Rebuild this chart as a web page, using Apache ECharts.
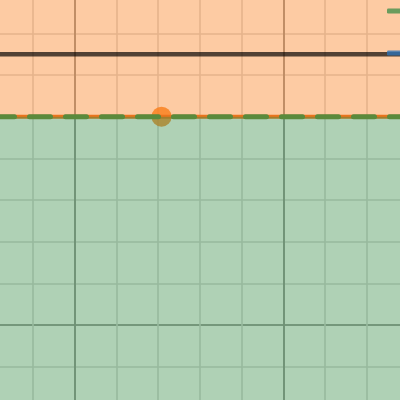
<!DOCTYPE html>
<html>
<head>
<meta charset="utf-8">
<script src="https://cdn.jsdelivr.net/npm/echarts@6/dist/echarts.min.js"></script>
<style>html,body{margin:0;padding:0;background:#fff;}#c{width:400px;height:400px;}</style>
</head>
<body>
<div id="c"></div>
<script>
// data
var lineX = [-2, 8];            // x extent of horizontal lines
var boundaryY = [5, 5];         // boundary y = 5
var blackY = [6.5, 6.5];        // horizontal line y = 6.5
var pointXY = [2.08, 5];        // highlighted point
var legendNames = ['y < 5', 'y = 6.5'];

function pairs(xs, ys) { return xs.map(function (x, i) { return [x, ys[i]]; }); }

var ux = 41.75, uy = 41.67, x0 = 74.7, y0 = 325;
function gridFor(xmin, xmax, ymin, ymax) {
  var left = x0 + xmin * ux, width = (xmax - xmin) * ux;
  var top = y0 - ymax * uy, height = (ymax - ymin) * uy;
  return { left: left, top: top, width: width, height: height, containLabel: false, outerBoundsMode: 'none', show: false };
}
function axisBase(min, max, interval, color, gridIndex) {
  return {
    type: 'value', min: min, max: max, interval: interval, gridIndex: gridIndex,
    axisLine: { show: false }, axisTick: { show: false }, axisLabel: { show: false },
    splitLine: { show: true, showMinLine: true, showMaxLine: true, lineStyle: { color: color, width: 1.6 } }
  };
}

var chart = echarts.init(document.getElementById('c'), null, { renderer: 'canvas' });
chart.setOption({
  animation: false,
  backgroundColor: '#ffffff',
  grid: [gridFor(-2, 8, -2, 8), gridFor(-5, 10, -5, 10)],
  xAxis: [axisBase(-2, 8, 1, '#d8d8d8', 0), axisBase(-5, 10, 5, '#888888', 1)],
  yAxis: [axisBase(-2, 8, 1, '#d8d8d8', 0), axisBase(-5, 10, 5, '#888888', 1)],
  legend: {
    orient: 'vertical', left: 387, top: 4, padding: 0, z: 20,
    itemWidth: 25, itemHeight: 5, itemGap: 28, selectedMode: false,
    textStyle: { fontSize: 12, lineHeight: 14, color: '#333', fontFamily: 'Roboto' },
    data: [
      { name: legendNames[0], icon: 'roundRect', itemStyle: { color: 'rgba(56,140,70,0.75)' } },
      { name: legendNames[1], icon: 'roundRect', itemStyle: { color: 'rgba(45,112,179,0.8)' } }
    ]
  },
  series: [
    {
      name: 'point', type: 'scatter', xAxisIndex: 0, yAxisIndex: 0, z: 1,
      symbol: 'circle', symbolSize: 20, itemStyle: { color: '#fa7e19' },
      data: [pointXY], silent: true
    },
    {
      name: 'y > 5', type: 'line', xAxisIndex: 0, yAxisIndex: 0, z: 2,
      data: pairs(lineX, boundaryY), showSymbol: false, symbol: 'none',
      lineStyle: { color: '#ea741c', width: 4 },
      areaStyle: { color: '#fa7e19', opacity: 0.4, origin: 'end' }
    },
    {
      name: legendNames[0], type: 'line', xAxisIndex: 0, yAxisIndex: 0, z: 3,
      data: pairs(lineX, boundaryY), showSymbol: false, symbol: 'none',
      lineStyle: { color: '#5a8a3c', width: 5, type: [21, 15], cap: 'round', dashOffset: 33.7 },
      areaStyle: { color: '#388c46', opacity: 0.4, origin: 'start' }
    },
    {
      name: legendNames[1], type: 'line', xAxisIndex: 0, yAxisIndex: 0, z: 4,
      data: pairs(lineX, blackY), showSymbol: false, symbol: 'none',
      lineStyle: { color: 'rgba(0,0,0,0.68)', width: 4.5 }
    }
  ]
});
</script>
</body>
</html>
